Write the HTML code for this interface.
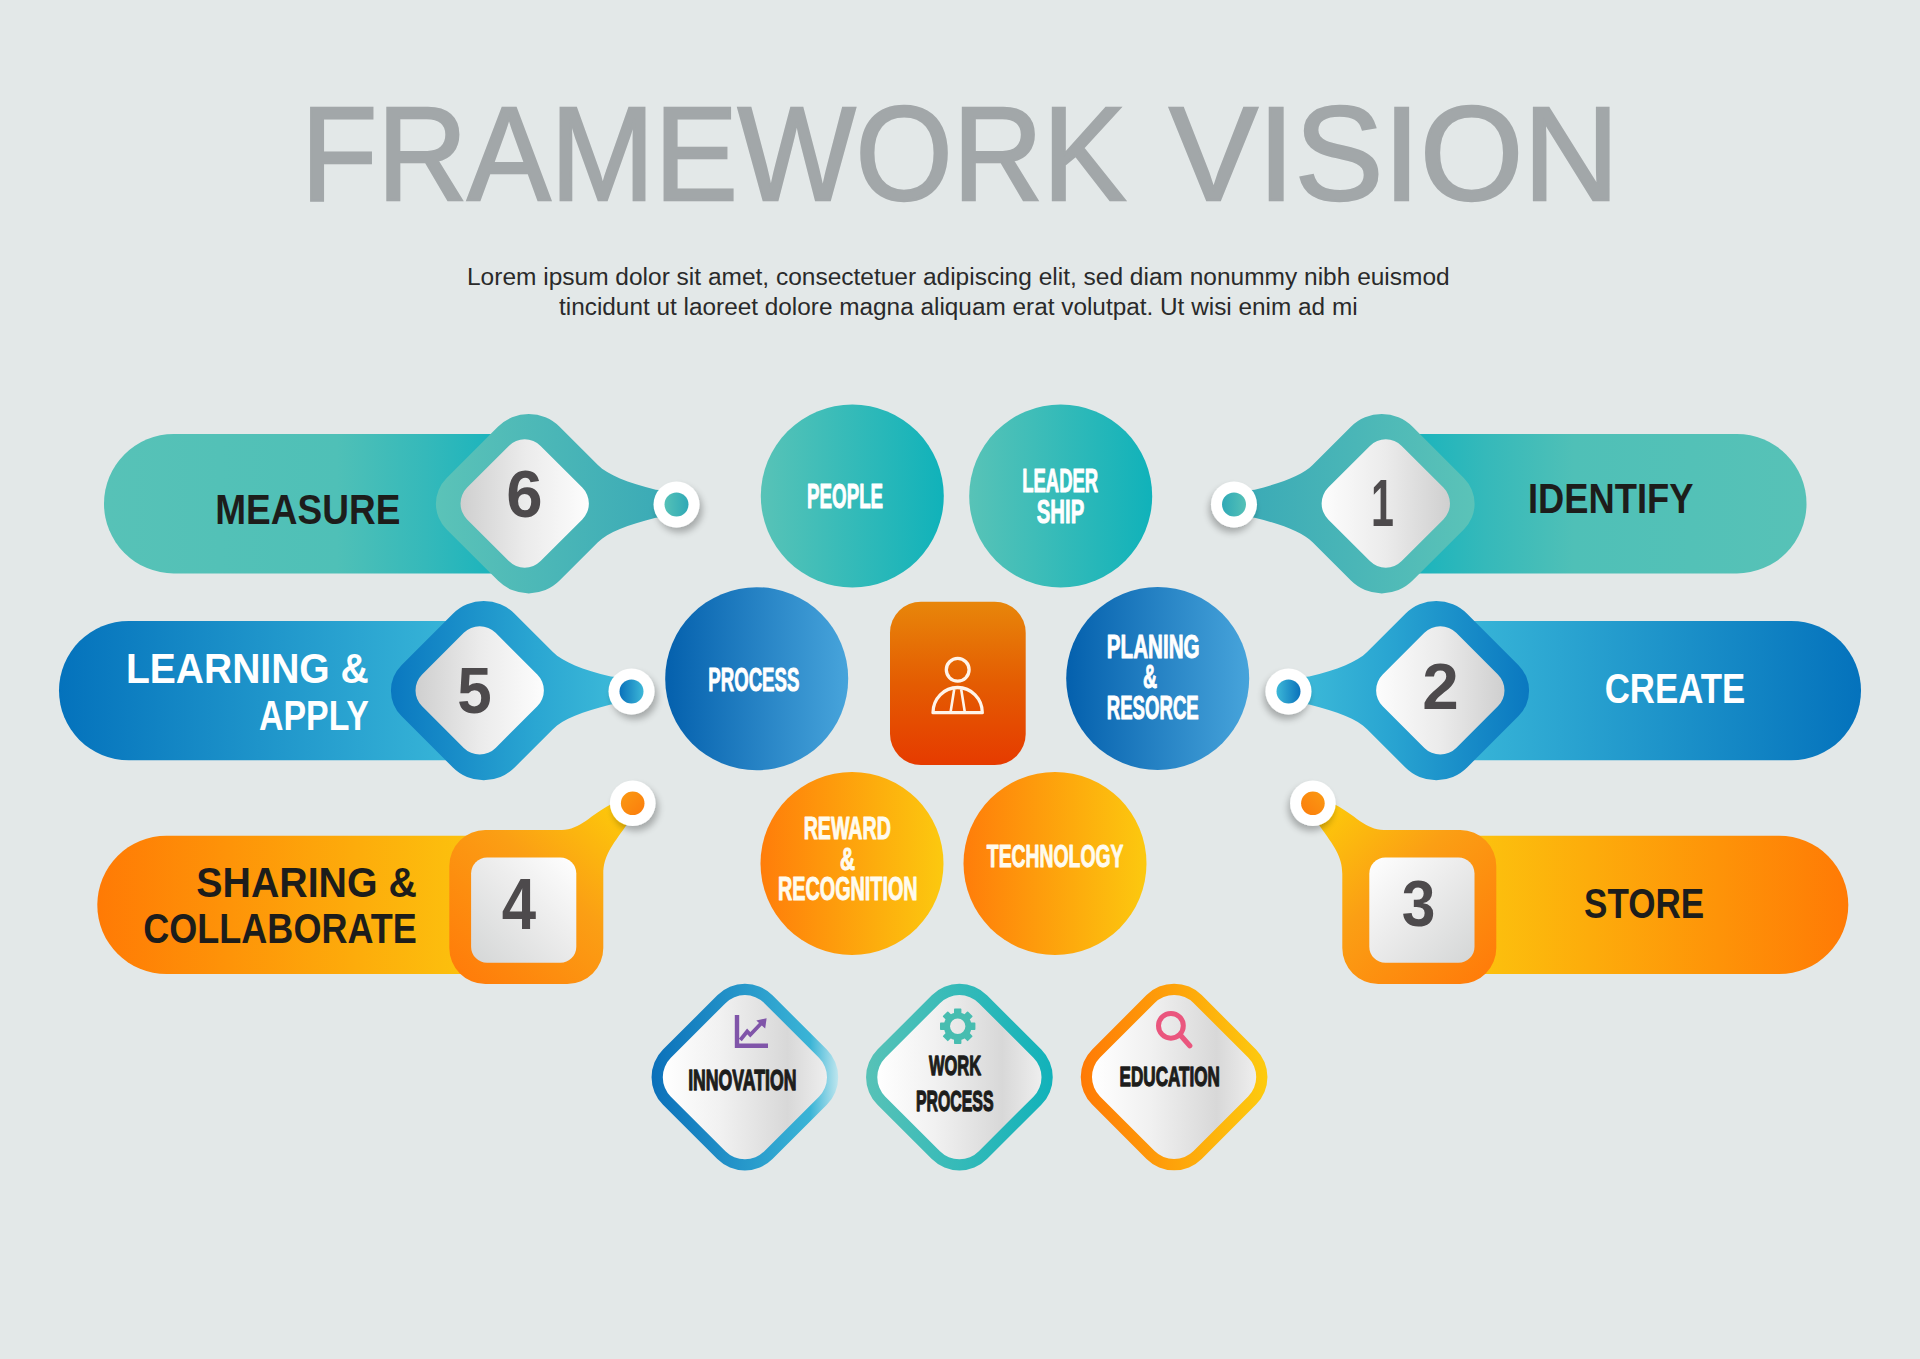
<!DOCTYPE html>
<html lang="en"><head><meta charset="utf-8"><title>Framework Vision</title>
<style>
html,body{margin:0;padding:0;background:#e3e8e8;}
body{width:1920px;height:1359px;overflow:hidden;}
svg{display:block;font-family:"Liberation Sans",sans-serif;}
</style></head><body>
<svg width="1920" height="1359" viewBox="0 0 1920 1359">
<defs>
<linearGradient id="gTeal" x1="0" y1="0" x2="1" y2="0"><stop offset="0" stop-color="#58c3b7"/><stop offset="1" stop-color="#10b2ba"/></linearGradient>
<linearGradient id="gBlue" x1="0" y1="0" x2="1" y2="0"><stop offset="0" stop-color="#0460ad"/><stop offset="1" stop-color="#47a4db"/></linearGradient>
<linearGradient id="gOrange" x1="0" y1="0" x2="1" y2="0"><stop offset="0" stop-color="#ff7d0a"/><stop offset="1" stop-color="#fcc90f"/></linearGradient>
<linearGradient id="gCenter" x1="0" y1="0" x2="0" y2="1"><stop offset="0" stop-color="#e8860a"/><stop offset="0.5" stop-color="#e45c02"/><stop offset="1" stop-color="#e63b00"/></linearGradient>
<linearGradient id="gSilverL" x1="0" y1="0" x2="1" y2="0"><stop offset="0" stop-color="#cfcfcf"/><stop offset="0.5" stop-color="#ebebeb"/><stop offset="1" stop-color="#fdfdfd"/></linearGradient>
<linearGradient id="gSilverR" x1="0" y1="0" x2="1" y2="0"><stop offset="0" stop-color="#fdfdfd"/><stop offset="0.5" stop-color="#ebebeb"/><stop offset="1" stop-color="#cfcfcf"/></linearGradient>
<linearGradient id="gSilverSqL" x1="0" y1="1" x2="1" y2="0"><stop offset="0" stop-color="#d4d6d6"/><stop offset="0.55" stop-color="#ececec"/><stop offset="1" stop-color="#ffffff"/></linearGradient>
<linearGradient id="gSilverSqR" x1="0" y1="0" x2="1" y2="1"><stop offset="0" stop-color="#ffffff"/><stop offset="0.45" stop-color="#ececec"/><stop offset="1" stop-color="#d4d6d6"/></linearGradient>
<linearGradient id="gSilverB" x1="0" y1="0" x2="1" y2="0"><stop offset="0" stop-color="#ffffff"/><stop offset="0.35" stop-color="#f1f1f1"/><stop offset="0.76" stop-color="#d8d8d8"/><stop offset="1" stop-color="#eeeeee"/></linearGradient>
<linearGradient id="pTeal" x1="-422" y1="0" x2="-20" y2="0" gradientUnits="userSpaceOnUse"><stop offset="0" stop-color="#57c2b7"/><stop offset="0.58" stop-color="#4fc0b7"/><stop offset="0.8" stop-color="#35b9ba"/><stop offset="1" stop-color="#17b3bd"/></linearGradient>
<linearGradient id="dTeal" x1="-90" y1="0" x2="150" y2="0" gradientUnits="userSpaceOnUse"><stop offset="0" stop-color="#5bc3b8"/><stop offset="1" stop-color="#39a9b6"/></linearGradient>
<linearGradient id="pBlue" x1="-422" y1="0" x2="-20" y2="0" gradientUnits="userSpaceOnUse"><stop offset="0" stop-color="#0472bc"/><stop offset="1" stop-color="#38b6d8"/></linearGradient>
<linearGradient id="dBlue" x1="-90" y1="0" x2="150" y2="0" gradientUnits="userSpaceOnUse"><stop offset="0" stop-color="#0a78c0"/><stop offset="0.6" stop-color="#2aa6d2"/><stop offset="1" stop-color="#3fbcd9"/></linearGradient>
<linearGradient id="pOrange" x1="-430" y1="0" x2="-40" y2="0" gradientUnits="userSpaceOnUse"><stop offset="0" stop-color="#ff7a05"/><stop offset="1" stop-color="#fcc50e"/></linearGradient>
<linearGradient id="dOrange" x1="-60" y1="70" x2="100" y2="-100" gradientUnits="userSpaceOnUse"><stop offset="0" stop-color="#ff7d0a"/><stop offset="0.55" stop-color="#fb9f14"/><stop offset="1" stop-color="#fdcb0a"/></linearGradient>
<linearGradient id="cTeal" x1="0" y1="0" x2="1" y2="0"><stop offset="0" stop-color="#55c1b7"/><stop offset="1" stop-color="#2fa9b6"/></linearGradient>
<linearGradient id="cBlue" x1="0" y1="0" x2="1" y2="0"><stop offset="0" stop-color="#0a72bb"/><stop offset="1" stop-color="#3db8d8"/></linearGradient>
<linearGradient id="cOrange" x1="0" y1="0" x2="1" y2="1"><stop offset="0" stop-color="#fb9a12"/><stop offset="1" stop-color="#fb7c0c"/></linearGradient>
<linearGradient id="rBlue" x1="0" y1="0" x2="1" y2="0"><stop offset="0" stop-color="#0b70ba"/><stop offset="0.85" stop-color="#3ab4d6"/><stop offset="1" stop-color="#bfe6ee"/></linearGradient>
<linearGradient id="rTeal" x1="0" y1="0" x2="1" y2="0"><stop offset="0" stop-color="#57c2b7"/><stop offset="1" stop-color="#12b2ba"/></linearGradient>
<linearGradient id="rOrange" x1="0" y1="0" x2="1" y2="0"><stop offset="0" stop-color="#ff7a05"/><stop offset="1" stop-color="#fdcb0f"/></linearGradient>
<filter id="sh" x="-50%" y="-50%" width="200%" height="200%"><feGaussianBlur in="SourceAlpha" stdDeviation="3.5"/><feOffset dx="2.5" dy="4.5"/><feComponentTransfer><feFuncA type="linear" slope="0.27"/></feComponentTransfer><feMerge><feMergeNode/><feMergeNode in="SourceGraphic"/></feMerge></filter>
</defs>
<rect width="1920" height="1359" fill="#e3e8e8"/>
<text x="301.00" y="200.30" font-size="134.31" fill="#a2a7a9" stroke="#a2a7a9" stroke-width="2.5" stroke-linejoin="miter" textLength="825.09" lengthAdjust="spacingAndGlyphs">FRAMEWORK</text>
<text x="1169.25" y="200.30" font-size="133.18" fill="#a2a7a9" stroke="#a2a7a9" stroke-width="2.5" stroke-linejoin="miter" textLength="449.97" lengthAdjust="spacingAndGlyphs">VISION</text>
<text x="467.00" y="284.50" font-size="23.57" fill="#2a2a2a" textLength="982.70" lengthAdjust="spacingAndGlyphs">Lorem ipsum dolor sit amet, consectetuer adipiscing elit, sed diam nonummy nibh euismod</text>
<text x="559.00" y="314.50" font-size="23.57" fill="#2a2a2a" textLength="798.60" lengthAdjust="spacingAndGlyphs">tincidunt ut laoreet dolore magna aliquam erat volutpat. Ut wisi enim ad mi</text>
<g transform="translate(525.5 503.7) scale(1 1)"><rect x="-421.5" y="-69.7" width="480" height="139.4" rx="69.7" fill="url(#pTeal)"/><path d="M-79.04 25.46 A36 36 0 0 1 -79.04 -25.46 L-27.6 -76.9 A43.6 43.6 0 0 1 34.1 -76.9 L72.4 -38.6 C82.4 -28.6 102 -21 130.3 -14 L151 -12 L151 12 L130.3 14 C102 21 82.4 28.6 72.4 38.6 L34.1 76.9 A43.6 43.6 0 0 1 -27.6 76.9 Z" fill="url(#dTeal)"/><path d="M15.11 -57.79 L56.79 -16.11 A22.50 22.50 0 0 1 56.79 15.71 L15.11 57.39 A22.50 22.50 0 0 1 -16.71 57.39 L-58.39 15.71 A22.50 22.50 0 0 1 -58.39 -16.11 L-16.71 -57.79 A22.50 22.50 0 0 1 15.11 -57.79Z" fill="url(#gSilverL)"/><g filter="url(#sh)"><circle cx="151" cy="0.8" r="23" fill="#fff"/></g><circle cx="151" cy="0.8" r="12" fill="url(#cTeal)"/></g>
<g transform="translate(480.5 690.6) scale(1 1)"><rect x="-421.5" y="-69.7" width="480" height="139.4" rx="69.7" fill="url(#pBlue)"/><path d="M-79.04 25.46 A36 36 0 0 1 -79.04 -25.46 L-27.6 -76.9 A43.6 43.6 0 0 1 34.1 -76.9 L72.4 -38.6 C82.4 -28.6 102 -21 130.3 -14 L151 -12 L151 12 L130.3 14 C102 21 82.4 28.6 72.4 38.6 L34.1 76.9 A43.6 43.6 0 0 1 -27.6 76.9 Z" fill="url(#dBlue)"/><path d="M15.11 -57.79 L56.79 -16.11 A22.50 22.50 0 0 1 56.79 15.71 L15.11 57.39 A22.50 22.50 0 0 1 -16.71 57.39 L-58.39 15.71 A22.50 22.50 0 0 1 -58.39 -16.11 L-16.71 -57.79 A22.50 22.50 0 0 1 15.11 -57.79Z" fill="url(#gSilverL)"/><g filter="url(#sh)"><circle cx="151" cy="0.8" r="23" fill="#fff"/></g><circle cx="151" cy="0.8" r="12" fill="url(#cBlue)"/></g>
<g transform="translate(1385 503.7) scale(-1 1)"><rect x="-421.5" y="-69.7" width="480" height="139.4" rx="69.7" fill="url(#pTeal)"/><path d="M-79.04 25.46 A36 36 0 0 1 -79.04 -25.46 L-27.6 -76.9 A43.6 43.6 0 0 1 34.1 -76.9 L72.4 -38.6 C82.4 -28.6 102 -21 130.3 -14 L151 -12 L151 12 L130.3 14 C102 21 82.4 28.6 72.4 38.6 L34.1 76.9 A43.6 43.6 0 0 1 -27.6 76.9 Z" fill="url(#dTeal)"/><path d="M15.11 -57.79 L56.79 -16.11 A22.50 22.50 0 0 1 56.79 15.71 L15.11 57.39 A22.50 22.50 0 0 1 -16.71 57.39 L-58.39 15.71 A22.50 22.50 0 0 1 -58.39 -16.11 L-16.71 -57.79 A22.50 22.50 0 0 1 15.11 -57.79Z" fill="url(#gSilverL)"/><g filter="url(#sh)"><circle cx="151" cy="0.8" r="23" fill="#fff"/></g><circle cx="151" cy="0.8" r="12" fill="url(#cTeal)"/></g>
<g transform="translate(1439.5 690.6) scale(-1 1)"><rect x="-421.5" y="-69.7" width="480" height="139.4" rx="69.7" fill="url(#pBlue)"/><path d="M-79.04 25.46 A36 36 0 0 1 -79.04 -25.46 L-27.6 -76.9 A43.6 43.6 0 0 1 34.1 -76.9 L72.4 -38.6 C82.4 -28.6 102 -21 130.3 -14 L151 -12 L151 12 L130.3 14 C102 21 82.4 28.6 72.4 38.6 L34.1 76.9 A43.6 43.6 0 0 1 -27.6 76.9 Z" fill="url(#dBlue)"/><path d="M15.11 -57.79 L56.79 -16.11 A22.50 22.50 0 0 1 56.79 15.71 L15.11 57.39 A22.50 22.50 0 0 1 -16.71 57.39 L-58.39 15.71 A22.50 22.50 0 0 1 -58.39 -16.11 L-16.71 -57.79 A22.50 22.50 0 0 1 15.11 -57.79Z" fill="url(#gSilverL)"/><g filter="url(#sh)"><circle cx="151" cy="0.8" r="23" fill="#fff"/></g><circle cx="151" cy="0.8" r="12" fill="url(#cBlue)"/></g>
<g transform="translate(526.3 907) scale(1 1)"><rect x="-429" y="-71.3" width="460" height="138.4" rx="69.2" fill="url(#pOrange)"/><path d="M-41 -77 L35.5 -77 C53.5 -77 65.5 -93 83.5 -102 L106 -104 L99.5 -81 C85.5 -61 77 -51 77 -33 L77 41 A36 36 0 0 1 41 77 L-41 77 A36 36 0 0 1 -77 41 L-77 -41 A36 36 0 0 1 -41 -77 Z" fill="url(#dOrange)"/><rect x="-55.2" y="-49.4" width="105.2" height="105.1" rx="16" fill="url(#gSilverSqL)"/><g filter="url(#sh)"><circle cx="106.4" cy="-103.7" r="22.8" fill="#fff"/></g><circle cx="106.4" cy="-103.7" r="11.8" fill="url(#cOrange)"/></g>
<g transform="translate(1419.3 907) scale(-1 1)"><rect x="-429" y="-71.3" width="460" height="138.4" rx="69.2" fill="url(#pOrange)"/><path d="M-41 -77 L35.5 -77 C53.5 -77 65.5 -93 83.5 -102 L106 -104 L99.5 -81 C85.5 -61 77 -51 77 -33 L77 41 A36 36 0 0 1 41 77 L-41 77 A36 36 0 0 1 -77 41 L-77 -41 A36 36 0 0 1 -41 -77 Z" fill="url(#dOrange)"/><rect x="-55.2" y="-49.4" width="105.2" height="105.1" rx="16" fill="url(#gSilverSqL)"/><g filter="url(#sh)"><circle cx="106.4" cy="-103.7" r="22.8" fill="#fff"/></g><circle cx="106.4" cy="-103.7" r="11.8" fill="url(#cOrange)"/></g>
<text x="215.20" y="524.40" font-size="42.79" font-weight="bold" fill="#1d1d1b" textLength="185.14" lengthAdjust="spacingAndGlyphs">MEASURE</text>
<text x="126.00" y="683.30" font-size="42.79" font-weight="bold" fill="#ffffff" textLength="242.73" lengthAdjust="spacingAndGlyphs">LEARNING &amp;</text>
<text x="259.00" y="730.00" font-size="42.79" font-weight="bold" fill="#ffffff" textLength="109.82" lengthAdjust="spacingAndGlyphs">APPLY</text>
<text x="196.30" y="896.70" font-size="42.79" font-weight="bold" fill="#1d1d1b" textLength="220.52" lengthAdjust="spacingAndGlyphs">SHARING &amp;</text>
<text x="143.30" y="943.30" font-size="42.79" font-weight="bold" fill="#1d1d1b" textLength="273.51" lengthAdjust="spacingAndGlyphs">COLLABORATE</text>
<text x="1528.00" y="512.70" font-size="42.79" font-weight="bold" fill="#1d1d1b" textLength="165.45" lengthAdjust="spacingAndGlyphs">IDENTIFY</text>
<text x="1604.70" y="702.70" font-size="42.79" font-weight="bold" fill="#ffffff" textLength="140.44" lengthAdjust="spacingAndGlyphs">CREATE</text>
<text x="1584.00" y="918.30" font-size="42.79" font-weight="bold" fill="#1d1d1b" textLength="120.13" lengthAdjust="spacingAndGlyphs">STORE</text>
<text x="506.25" y="517.25" font-size="67.12" font-weight="bold" fill="#4d4a4c" textLength="36.36" lengthAdjust="spacingAndGlyphs">6</text>
<text x="1371.00" y="526.00" font-size="66.88" font-weight="bold" fill="#4d4a4c" textLength="22.89" lengthAdjust="spacingAndGlyphs">1</text>
<text x="457.30" y="713.00" font-size="64.21" font-weight="bold" fill="#4d4a4c" textLength="34.47" lengthAdjust="spacingAndGlyphs">5</text>
<text x="1422.30" y="709.30" font-size="65.47" font-weight="bold" fill="#4d4a4c" textLength="36.49" lengthAdjust="spacingAndGlyphs">2</text>
<text x="501.70" y="929.30" font-size="71.60" font-weight="bold" fill="#4d4a4c" textLength="34.33" lengthAdjust="spacingAndGlyphs">4</text>
<text x="1401.70" y="926.30" font-size="64.05" font-weight="bold" fill="#4d4a4c" textLength="33.59" lengthAdjust="spacingAndGlyphs">3</text>
<circle cx="852.3" cy="496" r="91.5" fill="url(#gTeal)"/>
<circle cx="1060.7" cy="496" r="91.5" fill="url(#gTeal)"/>
<circle cx="756.7" cy="678.7" r="91.5" fill="url(#gBlue)"/>
<circle cx="1157.7" cy="678.5" r="91.5" fill="url(#gBlue)"/>
<circle cx="852" cy="863.5" r="91.5" fill="url(#gOrange)"/>
<circle cx="1055" cy="863.5" r="91.5" fill="url(#gOrange)"/>
<rect x="890" y="601.7" width="135.7" height="163.3" rx="31" fill="url(#gCenter)"/>
<text x="807.10" y="508.00" font-size="34.28" font-weight="bold" fill="#ffffff" stroke="#ffffff" stroke-width="1.0" stroke-linejoin="round" textLength="76.00" lengthAdjust="spacingAndGlyphs">PEOPLE</text>
<text x="1022.20" y="492.00" font-size="34.14" font-weight="bold" fill="#ffffff" stroke="#ffffff" stroke-width="1.0" stroke-linejoin="round" textLength="76.00" lengthAdjust="spacingAndGlyphs">LEADER</text>
<text x="1036.80" y="522.50" font-size="34.14" font-weight="bold" fill="#ffffff" stroke="#ffffff" stroke-width="1.0" stroke-linejoin="round" textLength="47.43" lengthAdjust="spacingAndGlyphs">SHIP</text>
<text x="708.30" y="690.70" font-size="34.11" font-weight="bold" fill="#ffffff" stroke="#ffffff" stroke-width="1.0" stroke-linejoin="round" textLength="91.03" lengthAdjust="spacingAndGlyphs">PROCESS</text>
<text x="1106.80" y="657.80" font-size="34.11" font-weight="bold" fill="#ffffff" stroke="#ffffff" stroke-width="1.0" stroke-linejoin="round" textLength="92.83" lengthAdjust="spacingAndGlyphs">PLANING</text>
<text x="1143.00" y="688.30" font-size="32.50" font-weight="bold" fill="#ffffff" stroke="#ffffff" stroke-width="1.0" stroke-linejoin="round" textLength="14.14" lengthAdjust="spacingAndGlyphs">&amp;</text>
<text x="1106.80" y="718.80" font-size="34.11" font-weight="bold" fill="#ffffff" stroke="#ffffff" stroke-width="1.0" stroke-linejoin="round" textLength="91.92" lengthAdjust="spacingAndGlyphs">RESORCE</text>
<text x="803.70" y="839.00" font-size="32.20" font-weight="bold" fill="#fffbee" stroke="#fffbee" stroke-width="1.0" stroke-linejoin="round" textLength="87.16" lengthAdjust="spacingAndGlyphs">REWARD</text>
<text x="840.00" y="869.50" font-size="31.12" font-weight="bold" fill="#fffbee" stroke="#fffbee" stroke-width="1.0" stroke-linejoin="round" textLength="15.09" lengthAdjust="spacingAndGlyphs">&amp;</text>
<text x="778.00" y="899.70" font-size="32.94" font-weight="bold" fill="#fffbee" stroke="#fffbee" stroke-width="1.0" stroke-linejoin="round" textLength="139.61" lengthAdjust="spacingAndGlyphs">RECOGNITION</text>
<text x="986.80" y="866.50" font-size="32.20" font-weight="bold" fill="#fffbee" stroke="#fffbee" stroke-width="1.0" stroke-linejoin="round" textLength="136.71" lengthAdjust="spacingAndGlyphs">TECHNOLOGY</text>
<g fill="none" stroke="#fff4ea" stroke-width="3.3" stroke-linejoin="round"><circle cx="957.7" cy="669.8" r="11.4"/><path d="M933 712.7 A24.65 25.2 0 0 1 982.3 712.7 Z"/><path d="M954.2 689.3 L950.6 712 M961.2 689.3 L964.8 712" stroke-width="2.6"/></g>
<path d="M772.48 995.28 L826.82 1049.62 A39.00 39.00 0 0 1 826.82 1104.78 L772.48 1159.12 A39.00 39.00 0 0 1 717.32 1159.12 L662.98 1104.78 A39.00 39.00 0 0 1 662.98 1049.62 L717.32 995.28 A39.00 39.00 0 0 1 772.48 995.28Z" fill="url(#rBlue)"/><path d="M764.35 1003.15 L818.95 1057.75 A27.50 27.50 0 0 1 818.95 1096.65 L764.35 1151.25 A27.50 27.50 0 0 1 725.45 1151.25 L670.85 1096.65 A27.50 27.50 0 0 1 670.85 1057.75 L725.45 1003.15 A27.50 27.50 0 0 1 764.35 1003.15Z" fill="url(#gSilverB)"/>
<path d="M986.98 995.28 L1041.32 1049.62 A39.00 39.00 0 0 1 1041.32 1104.78 L986.98 1159.12 A39.00 39.00 0 0 1 931.82 1159.12 L877.48 1104.78 A39.00 39.00 0 0 1 877.48 1049.62 L931.82 995.28 A39.00 39.00 0 0 1 986.98 995.28Z" fill="url(#rTeal)"/><path d="M978.85 1003.15 L1033.45 1057.75 A27.50 27.50 0 0 1 1033.45 1096.65 L978.85 1151.25 A27.50 27.50 0 0 1 939.95 1151.25 L885.35 1096.65 A27.50 27.50 0 0 1 885.35 1057.75 L939.95 1003.15 A27.50 27.50 0 0 1 978.85 1003.15Z" fill="url(#gSilverB)"/>
<path d="M1201.68 995.08 L1256.02 1049.42 A39.00 39.00 0 0 1 1256.02 1104.58 L1201.68 1158.92 A39.00 39.00 0 0 1 1146.52 1158.92 L1092.18 1104.58 A39.00 39.00 0 0 1 1092.18 1049.42 L1146.52 995.08 A39.00 39.00 0 0 1 1201.68 995.08Z" fill="url(#rOrange)"/><path d="M1193.55 1002.95 L1248.15 1057.55 A27.50 27.50 0 0 1 1248.15 1096.45 L1193.55 1151.05 A27.50 27.50 0 0 1 1154.65 1151.05 L1100.05 1096.45 A27.50 27.50 0 0 1 1100.05 1057.55 L1154.65 1002.95 A27.50 27.50 0 0 1 1193.55 1002.95Z" fill="url(#gSilverB)"/>
<text x="688.20" y="1090.30" font-size="28.93" font-weight="bold" fill="#1d1d1b" stroke="#1d1d1b" stroke-width="1.3" stroke-linejoin="round" textLength="108.21" lengthAdjust="spacingAndGlyphs">INNOVATION</text>
<text x="928.90" y="1074.80" font-size="28.32" font-weight="bold" fill="#1d1d1b" stroke="#1d1d1b" stroke-width="1.3" stroke-linejoin="round" textLength="52.13" lengthAdjust="spacingAndGlyphs">WORK</text>
<text x="915.90" y="1110.90" font-size="29.46" font-weight="bold" fill="#1d1d1b" stroke="#1d1d1b" stroke-width="1.3" stroke-linejoin="round" textLength="77.58" lengthAdjust="spacingAndGlyphs">PROCESS</text>
<text x="1119.60" y="1085.70" font-size="28.41" font-weight="bold" fill="#1d1d1b" stroke="#1d1d1b" stroke-width="1.3" stroke-linejoin="round" textLength="100.23" lengthAdjust="spacingAndGlyphs">EDUCATION</text>
<g fill="none" stroke="#8055a9"><path d="M737 1015 V1045.7 H768" stroke-width="4.4"/><path d="M740.3 1040 L747.2 1031.5 L750.3 1034.8 L762 1022.5" stroke-width="3.8"/></g><path d="M756.3 1020.6 L766.6 1018.2 L765.2 1028.6 Z" fill="#8055a9"/>
<g transform="translate(957.7 1026.3)" fill="#47bdb0"><rect x="-3.7" y="-17.7" width="7.4" height="7" rx="0.8" transform="rotate(0)"/><rect x="-3.7" y="-17.7" width="7.4" height="7" rx="0.8" transform="rotate(45)"/><rect x="-3.7" y="-17.7" width="7.4" height="7" rx="0.8" transform="rotate(90)"/><rect x="-3.7" y="-17.7" width="7.4" height="7" rx="0.8" transform="rotate(135)"/><rect x="-3.7" y="-17.7" width="7.4" height="7" rx="0.8" transform="rotate(180)"/><rect x="-3.7" y="-17.7" width="7.4" height="7" rx="0.8" transform="rotate(225)"/><rect x="-3.7" y="-17.7" width="7.4" height="7" rx="0.8" transform="rotate(270)"/><rect x="-3.7" y="-17.7" width="7.4" height="7" rx="0.8" transform="rotate(315)"/><circle r="10.8" fill="none" stroke="#47bdb0" stroke-width="6.2"/></g>
<g fill="none" stroke="#ea567e" stroke-linecap="round"><circle cx="1170.9" cy="1025.8" r="12.4" stroke-width="5"/><path d="M1180.5 1035.3 L1189.8 1045.8" stroke-width="5.2"/></g>
</svg>
</body></html>
